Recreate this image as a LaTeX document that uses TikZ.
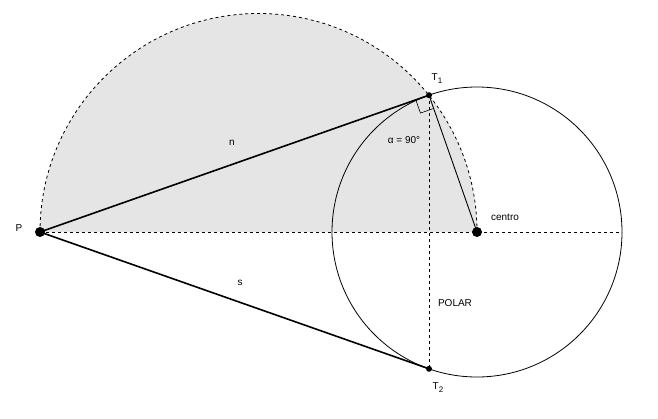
\documentclass[tikz,border=0pt]{standalone}
\usepackage{fontspec}
\setmainfont{Liberation Sans}
\usetikzlibrary{calc}
\begin{document}
\begin{tikzpicture}[x=1pt,y=-1pt,
  lbl/.style={font=\fontsize{10}{12}\selectfont,inner sep=1pt},
  thick line/.style={line width=1.6pt},
  dsh/.style={dashed,line width=0.8pt}]
\useasboundingbox (0,0) rectangle (658,418);
\coordinate (P) at (40,232);
\coordinate (C) at (477,232);
\coordinate (M) at (258.5,232);
\coordinate (T1) at (429,95.2);
\coordinate (T2) at (429,368.8);
\coordinate (E) at (622,232);
% shaded half disc
\fill[gray!20] (40,232) arc[start angle=180,end angle=360,radius=218.5] -- cycle;
\draw[dsh] (40,232) arc[start angle=180,end angle=360,radius=218.5];
\draw[line width=0.8pt] (C) circle[radius=145];
\draw[dsh] (P) -- (E);
\draw[dsh] (T1) -- (T2);
\draw[thick line] (P) -- (T1);
\draw[thick line] (P) -- (T2);
\draw[line width=0.9pt] (T1) -- (C);
% right angle mark
\draw[line width=0.6pt] ($(T1)+(-13.2,4.65)$) -- ($(T1)+(-13.2,4.65)+(4.63,13.23)$) -- ($(T1)+(4.63,13.23)$);
\fill (P) circle[radius=5];
\fill (C) circle[radius=5];
\fill (T1) circle[radius=3];
\fill (T2) circle[radius=3];
\node[lbl] (lP) at (19,228) {P};
\node[lbl] (ln) at (232,143) {n};
\node[lbl] (ls) at (240,283) {s};
\node[lbl] (lT1) at (437,79) {T\raisebox{-3pt}{\fontsize{8}{9}\selectfont 1}};
\node[lbl] (lT2) at (438,388) {T\raisebox{-3pt}{\fontsize{8}{9}\selectfont 2}};
\node[lbl] (la) at (404,140) {α = 90°};
\node[lbl] (lc) at (505,217) {centro};
\node[lbl] (lpol) at (455,303) {POLAR};
\end{tikzpicture}
\end{document}
